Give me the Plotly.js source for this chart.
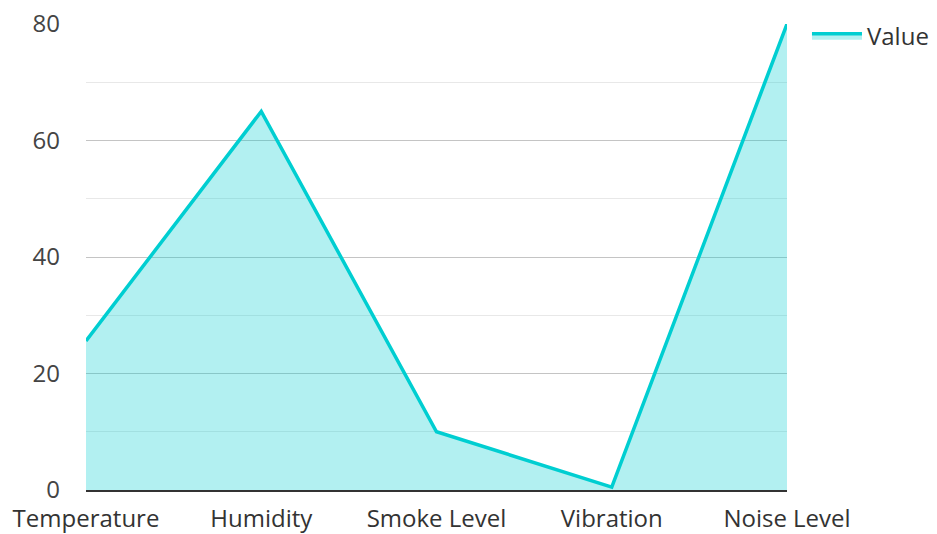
<!DOCTYPE html>
<html><head><meta charset="utf-8">
<script src="https://cdn.plot.ly/plotly-3.0.1.min.js"></script>
<style>html,body{margin:0;padding:0;background:#fff}#chart{width:937px;height:534px}</style>
</head><body><div id="chart"></div>
<script>
const categories = ["Temperature", "Humidity", "Smoke Level", "Vibration", "Noise Level"];
const values = [25.6, 65, 10, 0.5, 80];
const seriesName = "Value";

const trace = {
  x: categories, y: values, name: seriesName, type: 'scatter', mode: 'lines',
  fill: 'tozeroy', fillcolor: 'rgba(0,206,209,0.3)',
  line: {color: '#00CED1', width: 3.5}
};
const layout = {
  width: 937, height: 534,
  margin: {l: 86, r: 150, t: 24, b: 44, autoexpand: false},
  paper_bgcolor: '#fff', plot_bgcolor: '#fff',
  font: {family: 'Open Sans, sans-serif', size: 24, color: '#333'},
  showlegend: true,
  legend: {x: 1.0285, y: 1.022, xanchor: 'left', yanchor: 'top', itemwidth: 50,
    font: {size: 24, color: '#333'}},
  xaxis: {type: 'category', range: [0, 4], showgrid: false, zeroline: false, showline: true,
    linecolor: '#333', linewidth: 2, ticks: '', ticklabelstandoff: 6, automargin: false,
    tickfont: {size: 24, color: '#333'}},
  yaxis: {range: [0, 80], dtick: 20, showgrid: true, gridcolor: '#c4c4c4', gridwidth: 1,
    zeroline: false, showline: false, ticks: '', ticklabelstandoff: 25, automargin: false,
    tickfont: {size: 24, color: '#444'},
    minor: {dtick: 10, showgrid: true, gridcolor: '#e8e8e8', gridwidth: 1}}
};
Plotly.newPlot('chart', [trace], layout, {displayModeBar: false});
</script></body></html>
